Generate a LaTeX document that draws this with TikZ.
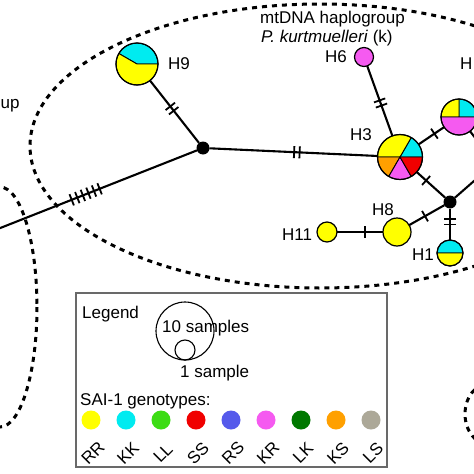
\documentclass[tikz,border=0pt]{standalone}
\usepackage{fontspec}
\setmainfont{Liberation Sans}
\usetikzlibrary{decorations.markings}
\definecolor{cY}{RGB}{255,255,0}
\definecolor{cC}{RGB}{0,235,240}
\definecolor{cL}{RGB}{60,220,20}
\definecolor{cR}{RGB}{240,0,0}
\definecolor{cB}{RGB}{85,90,235}
\definecolor{cM}{RGB}{245,90,240}
\definecolor{cD}{RGB}{0,120,0}
\definecolor{cO}{RGB}{255,160,0}
\definecolor{cG}{RGB}{172,168,152}
\newcommand\pieslice[6]{\begin{scope}[shift={(#1,#2)},y=1pt]\filldraw[fill=#6,draw=black,line width=0.9pt,line join=round] (0,0) -- (#4:#3) arc[start angle=#4, end angle=#5, radius=#3] -- cycle;\end{scope}}
\tikzset{
  tickline/.style={line width=1.8pt},
  tickA/.style={postaction={decorate,decoration={markings,mark=at position #1 with {\draw[tickline] (0,-6)--(0,6);}}}},
  tickB/.style={postaction={decorate,decoration={markings,mark=at position #1 with {\draw[tickline] (-2.75,-6)--(-2.75,6) (2.75,-6)--(2.75,6);}}}},
  tickF/.style={postaction={decorate,decoration={markings,mark=at position #1 with {\foreach \o in {-15,-9,-3,3,9,15} {\draw[tickline] (\o,-6)--(\o,6);}}}}},
  hap/.style={circle,draw=black,line width=1.2pt,inner sep=0pt,outer sep=0pt},
  junc/.style={circle,fill=black,inner sep=0pt,outer sep=0pt,minimum size=13pt},
  link/.style={line width=2.1pt},
  lbl/.style={font=\fontsize{17}{20}\selectfont,inner sep=0pt,anchor=base west},
  dotline/.style={line width=3pt,dash pattern=on 5pt off 5pt},
  gdot/.style={circle,inner sep=0pt,minimum size=19pt},
  glbl/.style={font=\fontsize{17}{20}\selectfont,inner sep=0pt,rotate=45}
}
\begin{document}
\begin{tikzpicture}[x=1pt,y=-1pt]
\useasboundingbox (0,0) rectangle (474,474);
\clip (0,0) rectangle (474,474);
\fill[white] (0,0) rectangle (474,474);
% group outlines
\draw[dotline] (320,146) ellipse [x radius=290, y radius=142];
\draw[dotline] (0,307) ellipse [x radius=37, y radius=120];
\draw[dotline] (490,414) ellipse [x radius=25, y radius=31];
% pies
\pieslice{137}{64}{21}{0}{150}{cC}
\pieslice{137}{64}{21}{150}{360}{cY}
\pieslice{400}{157}{22.5}{0}{60}{cC}
\pieslice{400}{157}{22.5}{60}{180}{cY}
\pieslice{400}{157}{22.5}{180}{240}{cO}
\pieslice{400}{157}{22.5}{240}{300}{cM}
\pieslice{400}{157}{22.5}{300}{360}{cR}
\pieslice{459}{117}{18}{0}{90}{cC}
\pieslice{459}{117}{18}{90}{180}{cY}
\pieslice{459}{117}{18}{180}{360}{cM}
\pieslice{450}{253}{13}{0}{180}{cC}
\pieslice{450}{253}{13}{180}{360}{cY}
% haplotype nodes
\node[hap,minimum size=42pt] (H9) at (137,64) {};
\node[hap,minimum size=45pt] (H3) at (400,157) {};
\node[hap,minimum size=19pt,fill=cM] (H6) at (364,57) {};
\node[hap,minimum size=36pt] (H4) at (459,117) {};
\node[hap,minimum size=28pt,fill=cY] (H8) at (397,232) {};
\node[hap,minimum size=20pt,fill=cY] (H11) at (327,232) {};
\node[hap,minimum size=26pt] (H1) at (450,253) {};
\node[junc] (J1) at (203,148) {};
\node[junc] (J2) at (450,202) {};
\coordinate (Lend) at (-20,236);
\coordinate (Rend1) at (490,167);
\coordinate (Rend2) at (490,157);
% connectors
\draw[link,tickB=0.45] (H9) -- (J1);
\draw[link,tickF=0.513] (J1) -- (Lend);
\draw[link,tickB=0.52] (J1) -- (H3);
\draw[link,tickB=0.53] (H6) -- (H3);
\draw[link,tickA=0.62] (H3) -- (H4);
\draw[link,tickA=0.33] (H3) -- (J2);
\draw[link,tickA=0.55] (J2) -- (H8);
\draw[link,tickA=0.39] (H8) -- (H11);
\draw[link,tickB=0.42] (J2) -- (H1);
\draw[link] (J2) -- (Rend1);
\draw[link] (H4) -- (Rend2);
% labels
\node[lbl] (t1) at (260,23) {mtDNA haplogroup};
\node[lbl] (t2) at (261,42) {\textit{P. kurtmuelleri} (k)};
\node[lbl] (lH9) at (168,69) {H9};
\node[lbl] (lH6) at (325,62) {H6};
\node[lbl] (lH3) at (350,140) {H3};
\node[lbl] (lH4) at (460,69) {H};
\node[lbl] (lH8) at (372,215) {H8};
\node[lbl] (lH11) at (282,240) {H11};
\node[lbl] (lH1) at (412,260) {H1};
\node[lbl] (tup) at (0.5,108) {up};
% legend
\node[draw={rgb,255:red,105;green,105;blue,105},line width=1.5pt,minimum width=311pt,minimum height=174pt,inner sep=0pt] (legend) at (231.5,380) {};
\node[lbl] (tleg) at (82,318) {Legend};
\node[lbl] (t10) at (162,332) {10 samples};
\node[lbl] (t1s) at (180,377) {1 sample};
\node[circle,draw=black,line width=1.1pt,minimum size=58pt,inner sep=0pt] (big) at (185,331) {};
\node[circle,draw=black,line width=1.1pt,minimum size=20pt,inner sep=0pt] (small) at (185,350) {};
\node[lbl] (tsai) at (80,405) {SAI-1 genotypes:};
\foreach \c/\t [count=\i from 0] in {cY/RR,cC/KK,cL/LL,cR/SS,cB/RS,cM/KR,cD/LK,cO/KS,cG/LS} {
  \node[gdot,fill=\c] (d\i) at ({91+35*\i},420) {};
  \node[glbl] (g\i) at ({93+35*\i},453) {\t};
}
\end{tikzpicture}
\end{document}
